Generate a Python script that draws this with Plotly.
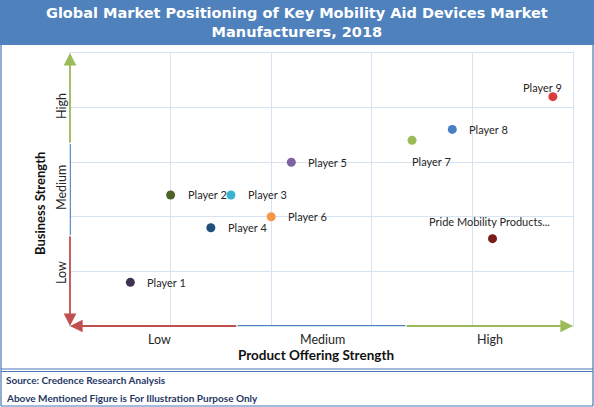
import plotly.graph_objects as go

# ---- data -------------------------------------------------------------
PLAYERS = [
    "Player 1", "Player 2", "Player 3", "Player 4", "Player 5",
    "Player 6", "Player 7", "Player 8", "Player 9",
    "Pride Mobility Products...",
]
PRODUCT_STRENGTH = [0.6, 1.0, 1.6, 1.4, 2.2, 2.0, 3.4, 3.8, 4.8, 4.2]
BUSINESS_STRENGTH = [0.8, 2.4, 2.4, 1.8, 3.0, 2.0, 3.4, 3.6, 4.2, 1.6]

LEVELS = ["Low", "Medium", "High"]
LEVEL_EDGES = [0, 5 / 3, 10 / 3, 5]

TITLE = "Global Market Positioning of Key Mobility Aid Devices Market<br>Manufacturers, 2018"
X_TITLE = "Product Offering Strength"
Y_TITLE = "Business Strength"
FOOTNOTES = [
    "Source: Credence Research Analysis",
    "Above Mentioned Figure is For Illustration Purpose Only",
]

# ---- styling -----------------------------------------------------------
POINT_COLORS = [
    "#403152", "#4F6228", "#36B3D3", "#1F4E79", "#8064A2",
    "#F79646", "#9BBB59", "#4A7EC4", "#D93B3B", "#7B1C1C",
]
# (xanchor, xshift, yshift) for each point label
LABEL_OFFSETS = [
    ("left", 15, 0), ("left", 15, 0), ("left", 15, 0), ("left", 15, 0), ("left", 15, 0),
    ("left", 15, 0), ("left", -2, -21), ("left", 15, 0), ("center", -10, 9), ("center", -3, 17),
]
LEVEL_COLORS = ["#C0504D", "#4F81BD", "#9BBB59"]
X_LEVEL_PX = [159, 322, 490]
Y_LEVEL_PX = [273, 188, 106]
BAND_BLUE = "#4F81BD"
GRID = "#D6E3F3"
NAVY = "#1F3864"
BODY_FONT = "Lato"

W, H = 594, 407
ML, MR, MT, MB = 70, 21, 53, 81
PW, PH = W - ML - MR, H - MT - MB


def px_x(px):
    return (px - ML) / PW


def px_y(py):
    return (H - MB - py) / PH


def label(x, y, text, size, color, xref="paper", yref="paper", angle=0, xanchor="center", family=BODY_FONT):
    return dict(x=x, y=y, xref=xref, yref=yref, text=text, textangle=angle, showarrow=False,
                xanchor=xanchor, yanchor="middle", font=dict(family=family, size=size, color=color))


def arrow(head, tail, color):
    return dict(x=head[0], y=head[1], ax=tail[0], ay=tail[1], xref="x", yref="y", axref="x", ayref="y",
                showarrow=True, arrowhead=2, arrowsize=1.4, arrowwidth=1.8, arrowcolor=color, text="")


fig = go.Figure()

fig.add_trace(
    go.Scatter(
        x=PRODUCT_STRENGTH,
        y=BUSINESS_STRENGTH,
        mode="markers",
        marker=dict(size=9, color=POINT_COLORS, line=dict(width=0)),
        hoverinfo="skip",
        cliponaxis=False,
        showlegend=False,
    )
)

shapes = []
annotations = []

# point labels
for name, px, py, (anchor, dx, dy) in zip(PLAYERS, PRODUCT_STRENGTH, BUSINESS_STRENGTH, LABEL_OFFSETS):
    ann = label(px, py, name, 11, "#262626", xref="x", yref="y", xanchor=anchor)
    ann.update(xshift=dx, yshift=dy)
    annotations.append(ann)

# coloured axis segments with arrowheads
for i, color in enumerate(LEVEL_COLORS):
    lo, hi = LEVEL_EDGES[i], LEVEL_EDGES[i + 1]
    if i == 0:
        annotations.append(arrow((0, 0), (hi, 0), color))
        annotations.append(arrow((0, 0), (0, hi), color))
    elif i == len(LEVEL_COLORS) - 1:
        annotations.append(arrow((hi, 0), (lo, 0), color))
        annotations.append(arrow((0, hi), (0, lo), color))
    else:
        shapes.append(dict(type="line", xref="x", yref="y", x0=lo, x1=hi, y0=0, y1=0,
                           line=dict(color=color, width=1.8)))
        shapes.append(dict(type="line", xref="x", yref="y", x0=0, x1=0, y0=lo, y1=hi,
                           line=dict(color=color, width=1.8)))

# level labels
for name, xp, yp in zip(LEVELS, X_LEVEL_PX, Y_LEVEL_PX):
    annotations.append(label(px_x(xp), px_y(339), name, 12.5, "#262626"))
    annotations.append(label(px_x(61), px_y(yp), name, 12.5, "#262626", angle=-90))

# axis titles
annotations.append(label(px_x(316), px_y(355), "<b>%s</b>" % X_TITLE, 13.5, "#111111"))
annotations.append(label(px_x(40), px_y(204), "<b>%s</b>" % Y_TITLE, 13, "#111111", angle=-90))

# title band
shapes.append(dict(type="rect", xref="paper", yref="paper", x0=px_x(0), x1=px_x(W), y0=px_y(45), y1=px_y(0),
                   fillcolor=BAND_BLUE, line=dict(width=0), layer="below"))
annotations.append(label(px_x(W / 2), px_y(23), "<b>%s</b>" % TITLE, 14.5, "white", family="DejaVu Sans"))

# outer frame and footer rules
for x0, x1, y0, y1 in [
    (1, 1, 45, 406), (593, 593, 45, 406), (1, 593, 406, 406),
    (1, 593, 369, 369), (1, 593, 371.5, 371.5),
]:
    shapes.append(dict(type="line", xref="paper", yref="paper", x0=px_x(x0), x1=px_x(x1),
                       y0=px_y(y0), y1=px_y(y1), line=dict(color="#4A76B5", width=1.2)))

for note, py in zip(FOOTNOTES, [380, 398]):
    annotations.append(label(px_x(4), px_y(py), "<b>%s</b>" % note, 10, NAVY, xanchor="left"))

fig.update_layout(
    width=W,
    height=H,
    autosize=False,
    margin=dict(l=ML, r=MR, t=MT, b=MB),
    paper_bgcolor="white",
    plot_bgcolor="white",
    shapes=shapes,
    annotations=annotations,
    showlegend=False,
)
fig.update_xaxes(range=[0, 5], dtick=1, showgrid=True, gridcolor=GRID, gridwidth=1,
                 zeroline=False, showticklabels=False, ticks="", showline=True,
                 linecolor=GRID, mirror=True, fixedrange=True)
fig.update_yaxes(range=[0, 5], dtick=1, showgrid=True, gridcolor=GRID, gridwidth=1,
                 zeroline=False, showticklabels=False, ticks="", showline=True,
                 linecolor=GRID, mirror=True, fixedrange=True)

fig.write_html(
    "out.html",
    config={"displayModeBar": False},
    post_script="document.body.style.margin='0';document.body.style.overflow='hidden';",
)
